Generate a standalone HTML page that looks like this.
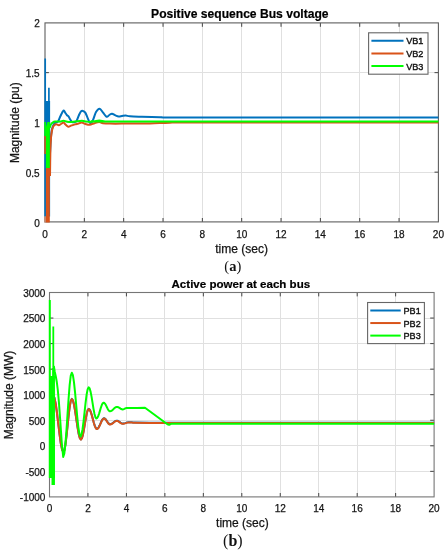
<!DOCTYPE html>
<html><head><meta charset="utf-8"><title>Bus voltage and active power</title>
<style>html,body{margin:0;padding:0;background:#fff}body{width:447px;height:550px;overflow:hidden}svg{display:block}</style>
</head><body>
<svg width="447" height="550" viewBox="0 0 447 550">
<style>.g{stroke:#e0e0e0;stroke-width:1;fill:none}.ax{fill:none;stroke:#5e5e5e;stroke-width:1.1}.tk{stroke:#444;stroke-width:1;fill:none}.c{fill:none;stroke-width:2;stroke-linejoin:round;stroke-linecap:butt}text{font-family:"Liberation Sans",Arial,Helvetica,sans-serif;fill:#151515;stroke:#151515;stroke-width:0.25px}.tl{font-size:10px}.ttl{font-size:12.1px;font-weight:bold;fill:#000;stroke:#000;stroke-width:0.2px}.lab{font-size:12px}.lg{font-size:9.1px;stroke-width:0.4px}.cap{font-family:"Liberation Serif","Times New Roman",serif;font-weight:bold;font-size:14.5px;stroke:none;fill:#111}.pr{font-weight:normal}</style>
<rect width="447" height="550" fill="#fff"/>
<line x1="84.5" y1="22.9" x2="84.5" y2="221.9" class="g"/>
<line x1="123.5" y1="22.9" x2="123.5" y2="221.9" class="g"/>
<line x1="163.5" y1="22.9" x2="163.5" y2="221.9" class="g"/>
<line x1="202.5" y1="22.9" x2="202.5" y2="221.9" class="g"/>
<line x1="241.5" y1="22.9" x2="241.5" y2="221.9" class="g"/>
<line x1="281.5" y1="22.9" x2="281.5" y2="221.9" class="g"/>
<line x1="320.5" y1="22.9" x2="320.5" y2="221.9" class="g"/>
<line x1="359.5" y1="22.9" x2="359.5" y2="221.9" class="g"/>
<line x1="399.5" y1="22.9" x2="399.5" y2="221.9" class="g"/>
<line x1="45" y1="172.5" x2="438.4" y2="172.5" class="g"/>
<line x1="45" y1="122.5" x2="438.4" y2="122.5" class="g"/>
<line x1="45" y1="72.5" x2="438.4" y2="72.5" class="g"/>
<path d="M84.34,221.9v-3.9M84.34,22.9v3.9M123.68,221.9v-3.9M123.68,22.9v3.9M163.02,221.9v-3.9M163.02,22.9v3.9M202.36,221.9v-3.9M202.36,22.9v3.9M241.7,221.9v-3.9M241.7,22.9v3.9M281.04,221.9v-3.9M281.04,22.9v3.9M320.38,221.9v-3.9M320.38,22.9v3.9M359.72,221.9v-3.9M359.72,22.9v3.9M399.06,221.9v-3.9M399.06,22.9v3.9M45,172.15h3.9M438.4,172.15h-3.9M45,122.4h3.9M438.4,122.4h-3.9M45,72.65h3.9M438.4,72.65h-3.9" class="tk"/>
<rect x="45" y="22.9" width="393.4" height="199" class="ax"/>
<rect x="44.3" y="101" width="5.8" height="115.5" fill="#0072bd"/>
<line x1="45.2" y1="58.5" x2="45.2" y2="101" stroke="#0072bd" stroke-width="1.7"/>
<line x1="48.9" y1="87.8" x2="48.9" y2="101" stroke="#0072bd" stroke-width="1.7"/>
<path class="c" stroke="#0072bd" d="M49.6,160C49.7,158.33 49.98,153.67 50.2,150C50.42,146.33 50.63,141.33 50.9,138C51.17,134.67 51.45,132 51.8,130C52.15,128 52.55,127.12 53,126C53.45,124.88 54,123.92 54.5,123.3C55,122.68 55.42,122.6 56,122.3C56.58,122 57.25,122.55 58,121.5C58.75,120.45 59.58,117.82 60.5,116C61.42,114.18 62.7,111.13 63.5,110.6C64.3,110.07 64.75,112.07 65.3,112.8C65.85,113.53 66.27,114.42 66.8,115C67.33,115.58 67.93,115.55 68.5,116.3C69.07,117.05 69.63,118.57 70.2,119.5C70.77,120.43 71.27,121.45 71.9,121.9C72.53,122.35 73.23,122.35 74,122.2C74.77,122.05 75.7,122.12 76.5,121C77.3,119.88 78.08,117.07 78.8,115.5C79.52,113.93 80.12,112.37 80.8,111.6C81.48,110.83 82.15,110.73 82.9,110.9C83.65,111.07 84.48,111.37 85.3,112.6C86.12,113.83 86.97,116.53 87.8,118.3C88.63,120.07 89.43,122.92 90.3,123.2C91.17,123.48 92.05,121.87 93,120C93.95,118.13 94.9,113.88 96,112C97.1,110.12 98.43,108.62 99.6,108.7C100.77,108.78 101.83,111.15 103,112.5C104.17,113.85 105.55,116.38 106.6,116.8C107.65,117.22 108.4,115.52 109.3,115C110.2,114.48 110.97,113.63 112,113.7C113.03,113.77 114.38,114.95 115.5,115.4C116.62,115.85 117.62,116.3 118.7,116.4C119.78,116.5 120.82,116.13 122,116C123.18,115.87 124.47,115.55 125.8,115.6C127.13,115.65 127.63,116.12 130,116.3C132.37,116.48 135,116.55 140,116.7C145,116.85 151.67,117.07 160,117.2C168.33,117.33 143.6,117.45 190,117.5C236.4,117.55 397,117.5 438.4,117.5"/>
<rect x="44.3" y="136" width="1.6" height="18" fill="#d95319"/>
<rect x="45.9" y="168" width="3.9" height="54.5" fill="#d95319"/>
<rect x="44.3" y="216.5" width="1.6" height="6" fill="#c8866a"/>
<path class="c" stroke="#d95319" d="M50,176C50.07,171.67 50.23,156.33 50.4,150C50.57,143.67 50.75,141.17 51,138C51.25,134.83 51.57,132.8 51.9,131C52.23,129.2 52.57,128.2 53,127.2C53.43,126.2 53.97,125.5 54.5,125C55.03,124.5 55.48,124.15 56.2,124.2C56.92,124.25 58,125.33 58.8,125.3C59.6,125.27 60.22,124.45 61,124C61.78,123.55 62.75,122.52 63.5,122.6C64.25,122.68 64.68,123.8 65.5,124.5C66.32,125.2 67.48,126.62 68.4,126.8C69.32,126.98 69.9,126 71,125.6C72.1,125.2 73.75,124.73 75,124.4C76.25,124.07 77.37,123.9 78.5,123.6C79.63,123.3 80.63,122.53 81.8,122.6C82.97,122.67 84.17,123.63 85.5,124C86.83,124.37 88.3,124.93 89.8,124.8C91.3,124.67 92.93,123.65 94.5,123.2C96.07,122.75 97.78,122.1 99.2,122.1C100.62,122.1 101.2,122.95 103,123.2C104.8,123.45 106.33,123.53 110,123.6C113.67,123.67 118.33,123.63 125,123.6C131.67,123.57 142.5,123.55 150,123.4C157.5,123.25 161.67,122.87 170,122.7C178.33,122.53 155.27,122.45 200,122.4C244.73,122.35 398.67,122.4 438.4,122.4"/>
<rect x="44.3" y="122" width="1.6" height="14" fill="#00ff00"/>
<rect x="45.9" y="122" width="3.9" height="46" fill="#00ff00"/>
<path class="c" stroke="#00ff00" d="M49.6,128C49.7,127.75 49.97,127.12 50.2,126.5C50.43,125.88 50.53,125 51,124.3C51.47,123.6 52.33,122.75 53,122.3C53.67,121.85 54.17,121.73 55,121.6C55.83,121.47 57.08,121.53 58,121.5C58.92,121.47 59.58,121.52 60.5,121.4C61.42,121.28 62.5,120.78 63.5,120.8C64.5,120.82 65.35,121.28 66.5,121.5C67.65,121.72 68.98,122.08 70.4,122.1C71.82,122.12 73.1,121.82 75,121.6C76.9,121.38 79.97,120.83 81.8,120.8C83.63,120.77 84.67,121.22 86,121.4C87.33,121.58 88.38,121.93 89.8,121.9C91.22,121.87 92.93,121.43 94.5,121.2C96.07,120.97 97.62,120.5 99.2,120.5C100.78,120.5 100.53,121.05 104,121.2C107.47,121.35 64.27,121.35 120,121.4C175.73,121.45 385.33,121.48 438.4,121.5"/>
<path d="M45.9,121.5 L46.6,127 L47.4,121.5Z" fill="#0072bd"/>
<text x="45" y="237.6" class="tl" text-anchor="middle">0</text>
<text x="84.34" y="237.6" class="tl" text-anchor="middle">2</text>
<text x="123.68" y="237.6" class="tl" text-anchor="middle">4</text>
<text x="163.02" y="237.6" class="tl" text-anchor="middle">6</text>
<text x="202.36" y="237.6" class="tl" text-anchor="middle">8</text>
<text x="241.7" y="237.6" class="tl" text-anchor="middle">10</text>
<text x="281.04" y="237.6" class="tl" text-anchor="middle">12</text>
<text x="320.38" y="237.6" class="tl" text-anchor="middle">14</text>
<text x="359.72" y="237.6" class="tl" text-anchor="middle">16</text>
<text x="399.06" y="237.6" class="tl" text-anchor="middle">18</text>
<text x="438.4" y="237.6" class="tl" text-anchor="middle">20</text>
<text x="39.7" y="226.5" class="tl" text-anchor="end">0</text>
<text x="39.7" y="176.75" class="tl" text-anchor="end">0.5</text>
<text x="39.7" y="127" class="tl" text-anchor="end">1</text>
<text x="39.7" y="77.25" class="tl" text-anchor="end">1.5</text>
<text x="39.7" y="26.8" class="tl" text-anchor="end">2</text>
<text x="239.8" y="17.8" class="ttl" text-anchor="middle">Positive sequence Bus voltage</text>
<text x="241.6" y="252.7" class="lab" text-anchor="middle">time (sec)</text>
<text transform="translate(18.6,122.7) rotate(-90)" class="lab" text-anchor="middle">Magnitude (pu)</text>
<text x="232.8" y="271" class="cap" text-anchor="middle"><tspan class="pr">(</tspan>a<tspan class="pr">)</tspan></text>
<rect x="368.6" y="32.8" width="59.4" height="41.4" fill="#fff" stroke="#666" stroke-width="1.1"/>
<line x1="371.4" y1="40.8" x2="403.5" y2="40.8" stroke="#0072bd" stroke-width="2"/>
<text x="406.2" y="44.2" class="lg">VB1</text>
<line x1="371.4" y1="53.45" x2="403.5" y2="53.45" stroke="#d95319" stroke-width="2"/>
<text x="406.2" y="56.85" class="lg">VB2</text>
<line x1="371.4" y1="66.1" x2="403.5" y2="66.1" stroke="#00ff00" stroke-width="2"/>
<text x="406.2" y="69.5" class="lg">VB3</text>
<line x1="87.5" y1="292.5" x2="87.5" y2="496.9" class="g"/>
<line x1="126.5" y1="292.5" x2="126.5" y2="496.9" class="g"/>
<line x1="164.5" y1="292.5" x2="164.5" y2="496.9" class="g"/>
<line x1="203.5" y1="292.5" x2="203.5" y2="496.9" class="g"/>
<line x1="241.5" y1="292.5" x2="241.5" y2="496.9" class="g"/>
<line x1="280.5" y1="292.5" x2="280.5" y2="496.9" class="g"/>
<line x1="318.5" y1="292.5" x2="318.5" y2="496.9" class="g"/>
<line x1="357.5" y1="292.5" x2="357.5" y2="496.9" class="g"/>
<line x1="395.5" y1="292.5" x2="395.5" y2="496.9" class="g"/>
<line x1="49.5" y1="471.5" x2="434.1" y2="471.5" class="g"/>
<line x1="49.5" y1="445.5" x2="434.1" y2="445.5" class="g"/>
<line x1="49.5" y1="420.5" x2="434.1" y2="420.5" class="g"/>
<line x1="49.5" y1="394.5" x2="434.1" y2="394.5" class="g"/>
<line x1="49.5" y1="369.5" x2="434.1" y2="369.5" class="g"/>
<line x1="49.5" y1="343.5" x2="434.1" y2="343.5" class="g"/>
<line x1="49.5" y1="318.5" x2="434.1" y2="318.5" class="g"/>
<path d="M87.96,496.9v-3.9M87.96,292.5v3.9M126.42,496.9v-3.9M126.42,292.5v3.9M164.88,496.9v-3.9M164.88,292.5v3.9M203.34,496.9v-3.9M203.34,292.5v3.9M241.8,496.9v-3.9M241.8,292.5v3.9M280.26,496.9v-3.9M280.26,292.5v3.9M318.72,496.9v-3.9M318.72,292.5v3.9M357.18,496.9v-3.9M357.18,292.5v3.9M395.64,496.9v-3.9M395.64,292.5v3.9M49.5,471.35h3.9M434.1,471.35h-3.9M49.5,445.8h3.9M434.1,445.8h-3.9M49.5,420.25h3.9M434.1,420.25h-3.9M49.5,394.7h3.9M434.1,394.7h-3.9M49.5,369.15h3.9M434.1,369.15h-3.9M49.5,343.6h3.9M434.1,343.6h-3.9M49.5,318.05h3.9M434.1,318.05h-3.9" class="tk"/>
<rect x="49.5" y="292.5" width="384.6" height="204.4" class="ax" style="stroke:#767676"/>
<path class="c" stroke="#0072bd" d="M53.2,395.75 L54.48,397.88 L55.75,403.95 L57.02,413.03 L58.3,423.75 L59.58,434.47 L60.85,443.55 L62.12,449.62 L63.4,451.75 L64.45,449.74 L65.5,444 L66.55,435.42 L67.6,425.3 L68.65,415.18 L69.7,406.6 L70.75,400.86 L71.8,398.85 L72.94,400.39 L74.08,404.78 L75.21,411.35 L76.35,419.1 L77.49,426.85 L78.62,433.42 L79.76,437.81 L80.9,439.35 L81.88,438.19 L82.85,434.88 L83.83,429.94 L84.8,424.1 L85.78,418.26 L86.75,413.32 L87.73,410.01 L88.7,408.85 L89.73,409.61 L90.75,411.78 L91.78,415.02 L92.8,418.85 L93.83,422.68 L94.85,425.92 L95.88,428.09 L96.9,428.85 L97.79,428.45 L98.68,427.3 L99.56,425.58 L100.45,423.55 L101.34,421.52 L102.22,419.8 L103.11,418.65 L104,418.25 L104.75,418.48 L105.5,419.13 L106.25,420.1 L107,421.25 L107.75,422.4 L108.5,423.37 L109.25,424.02 L110,424.25 L110.86,424.11 L111.72,423.72 L112.59,423.14 L113.45,422.45 L114.31,421.76 L115.18,421.18 L116.04,420.79 L116.9,420.65 L117.62,420.76 L118.35,421.07 L119.08,421.55 L119.8,422.1 L120.53,422.65 L121.25,423.13 L121.98,423.44 L122.7,423.55 L123.49,423.5 L124.28,423.34 L125.06,423.12 L125.85,422.85 L126.64,422.58 L127.42,422.36 L128.21,422.2 L129,422.15 L129.62,422.16 L130.25,422.19 L130.88,422.24 L131.5,422.3 L132.12,422.36 L132.75,422.41 L133.38,422.44 L134,422.45 L150,422.65 L434.1,422.65"/>
<path class="c" stroke="#d95319" d="M53.2,396 L54.48,398.13 L55.75,404.2 L57.02,413.28 L58.3,424 L59.58,434.72 L60.85,443.8 L62.12,449.87 L63.4,452 L64.45,449.99 L65.5,444.25 L66.55,435.67 L67.6,425.55 L68.65,415.43 L69.7,406.85 L70.75,401.11 L71.8,399.1 L72.94,400.64 L74.08,405.03 L75.21,411.6 L76.35,419.35 L77.49,427.1 L78.62,433.67 L79.76,438.06 L80.9,439.6 L81.88,438.44 L82.85,435.13 L83.83,430.19 L84.8,424.35 L85.78,418.51 L86.75,413.57 L87.73,410.26 L88.7,409.1 L89.73,409.86 L90.75,412.03 L91.78,415.27 L92.8,419.1 L93.83,422.93 L94.85,426.17 L95.88,428.34 L96.9,429.1 L97.79,428.7 L98.68,427.55 L99.56,425.83 L100.45,423.8 L101.34,421.77 L102.22,420.05 L103.11,418.9 L104,418.5 L104.75,418.73 L105.5,419.38 L106.25,420.35 L107,421.5 L107.75,422.65 L108.5,423.62 L109.25,424.27 L110,424.5 L110.86,424.36 L111.72,423.97 L112.59,423.39 L113.45,422.7 L114.31,422.01 L115.18,421.43 L116.04,421.04 L116.9,420.9 L117.62,421.01 L118.35,421.32 L119.08,421.8 L119.8,422.35 L120.53,422.9 L121.25,423.38 L121.98,423.69 L122.7,423.8 L123.49,423.75 L124.28,423.59 L125.06,423.37 L125.85,423.1 L126.64,422.83 L127.42,422.61 L128.21,422.45 L129,422.4 L129.62,422.41 L130.25,422.44 L130.88,422.49 L131.5,422.55 L132.12,422.61 L132.75,422.66 L133.38,422.69 L134,422.7 L150,422.9 L434.1,422.9"/>
<rect x="49" y="376" width="5.8" height="102" fill="#00ff00"/>
<line x1="49.8" y1="300" x2="49.8" y2="478" stroke="#00ff00" stroke-width="2"/>
<line x1="53.3" y1="326.5" x2="53.3" y2="485" stroke="#00ff00" stroke-width="1.8"/>
<rect x="52.3" y="368" width="2.5" height="117" fill="#00ff00"/>
<rect x="51.5" y="440" width="3.1" height="45" fill="#00ff00"/>
<path class="c" stroke="#00ff00" d="M53.8,366 L54.8,372 L55.8,376.5 L56.8,382 L57.8,390 L58.9,402 L60.2,420 L61.7,442 L63.2,457 L64.28,453.79 L65.35,444.65 L66.42,430.98 L67.5,414.85 L68.58,398.72 L69.65,385.05 L70.72,375.91 L71.8,372.7 L72.89,375.12 L73.97,382.03 L75.06,392.36 L76.15,404.55 L77.24,416.74 L78.33,427.07 L79.41,433.98 L80.5,436.4 L81.53,434.53 L82.55,429.21 L83.58,421.24 L84.6,411.85 L85.62,402.46 L86.65,394.49 L87.67,389.17 L88.7,387.3 L89.66,388.49 L90.62,391.87 L91.59,396.93 L92.55,402.9 L93.51,408.87 L94.48,413.93 L95.44,417.31 L96.4,418.5 L97.3,417.9 L98.2,416.19 L99.1,413.62 L100,410.6 L100.9,407.58 L101.8,405.01 L102.7,403.3 L103.6,402.7 L104.4,403.03 L105.2,403.96 L106,405.35 L106.8,407 L107.6,408.65 L108.4,410.04 L109.2,410.97 L110,411.3 L110.86,411.13 L111.72,410.66 L112.59,409.94 L113.45,409.1 L114.31,408.26 L115.18,407.54 L116.04,407.07 L116.9,406.9 L117.62,407 L118.35,407.27 L119.08,407.67 L119.8,408.15 L120.53,408.63 L121.25,409.03 L121.98,409.3 L122.7,409.4 L123.24,409.34 L123.78,409.18 L124.31,408.94 L124.85,408.65 L125.39,408.36 L125.92,408.12 L126.46,407.96 L127,407.9 L127.38,407.9 L127.75,407.9 L128.12,407.9 L128.5,407.9 L128.88,407.9 L129.25,407.9 L129.62,407.9 L130,407.9"/>
<path class="c" stroke="#00ff00" d="M130,407.9 L137,408.1 L145,407.8 L167.4,424.2 L169.2,424.8 L171.5,423.7 L434.1,423.7"/>
<text x="49.5" y="511.8" class="tl" text-anchor="middle">0</text>
<text x="87.96" y="511.8" class="tl" text-anchor="middle">2</text>
<text x="126.42" y="511.8" class="tl" text-anchor="middle">4</text>
<text x="164.88" y="511.8" class="tl" text-anchor="middle">6</text>
<text x="203.34" y="511.8" class="tl" text-anchor="middle">8</text>
<text x="241.8" y="511.8" class="tl" text-anchor="middle">10</text>
<text x="280.26" y="511.8" class="tl" text-anchor="middle">12</text>
<text x="318.72" y="511.8" class="tl" text-anchor="middle">14</text>
<text x="357.18" y="511.8" class="tl" text-anchor="middle">16</text>
<text x="395.64" y="511.8" class="tl" text-anchor="middle">18</text>
<text x="434.1" y="511.8" class="tl" text-anchor="middle">20</text>
<text x="45.4" y="501.3" class="tl" text-anchor="end">-1000</text>
<text x="45.4" y="475.75" class="tl" text-anchor="end">-500</text>
<text x="45.4" y="450.2" class="tl" text-anchor="end">0</text>
<text x="45.4" y="424.65" class="tl" text-anchor="end">500</text>
<text x="45.4" y="399.1" class="tl" text-anchor="end">1000</text>
<text x="45.4" y="373.55" class="tl" text-anchor="end">1500</text>
<text x="45.4" y="348" class="tl" text-anchor="end">2000</text>
<text x="45.4" y="322.45" class="tl" text-anchor="end">2500</text>
<text x="45.4" y="296.9" class="tl" text-anchor="end">3000</text>
<text x="240.85" y="287.8" class="ttl" style="font-size:11.55px" text-anchor="middle">Active power at each bus</text>
<text x="242.4" y="527.3" class="lab" text-anchor="middle">time (sec)</text>
<text transform="translate(12.7,395) rotate(-90)" class="lab" text-anchor="middle">Magnitude (MW)</text>
<text x="232.9" y="546" class="cap" style="font-size:16px" text-anchor="middle"><tspan class="pr">(</tspan>b<tspan class="pr">)</tspan></text>
<rect x="367.6" y="302.5" width="56.8" height="41.1" fill="#fff" stroke="#666" stroke-width="1.1"/>
<line x1="370.3" y1="310.5" x2="400.7" y2="310.5" stroke="#0072bd" stroke-width="2"/>
<text x="403.5" y="314" class="lg">PB1</text>
<line x1="370.3" y1="323.05" x2="400.7" y2="323.05" stroke="#d95319" stroke-width="2"/>
<text x="403.5" y="326.55" class="lg">PB2</text>
<line x1="370.3" y1="335.6" x2="400.7" y2="335.6" stroke="#00ff00" stroke-width="2"/>
<text x="403.5" y="339.1" class="lg">PB3</text>
</svg>
</body></html>
